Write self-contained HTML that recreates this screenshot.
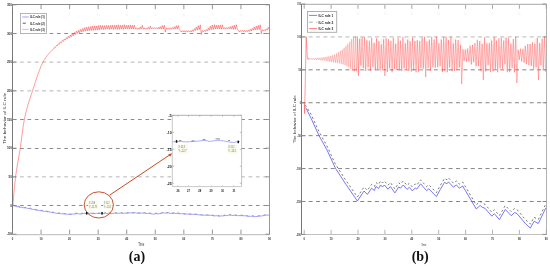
<!DOCTYPE html>
<html><head><meta charset="utf-8"><title>ILC rule behavior</title>
<style>
html,body{margin:0;padding:0;background:#fff;}
svg{display:block;}
text{font-family:"Liberation Sans",Arial,sans-serif;}
.b{font-weight:bold;}
.lbl{font-family:"Liberation Serif",serif;font-weight:bold;}
</style></head>
<body>
<svg width="550" height="266" viewBox="0 0 550 266">
<rect width="550" height="266" fill="#fff"/>
<line x1="12.5" y1="33.5" x2="269.5" y2="33.5" stroke="#8c8c8c" stroke-width="1.0" stroke-dasharray="3.65 3.72" stroke-dashoffset="7.12"/>
<line x1="12.5" y1="62.1" x2="269.5" y2="62.1" stroke="#b4b4b4" stroke-width="1.0" stroke-dasharray="3.65 3.72" stroke-dashoffset="7.12"/>
<line x1="12.5" y1="90.85" x2="269.5" y2="90.85" stroke="#b4b4b4" stroke-width="1.0" stroke-dasharray="3.65 3.72" stroke-dashoffset="7.12"/>
<line x1="12.5" y1="119.5" x2="269.5" y2="119.5" stroke="#8c8c8c" stroke-width="1.0" stroke-dasharray="3.65 3.72" stroke-dashoffset="7.12"/>
<line x1="12.5" y1="148.5" x2="269.5" y2="148.5" stroke="#8c8c8c" stroke-width="1.0" stroke-dasharray="3.65 3.72" stroke-dashoffset="7.12"/>
<line x1="12.5" y1="176.85" x2="269.5" y2="176.85" stroke="#b4b4b4" stroke-width="1.0" stroke-dasharray="3.65 3.72" stroke-dashoffset="7.12"/>
<line x1="12.5" y1="205.5" x2="269.5" y2="205.5" stroke="#8c8c8c" stroke-width="1.0" stroke-dasharray="3.65 3.72" stroke-dashoffset="7.12"/>
<polyline points="12.5,205.6 12.8,206.1 14.3,188.65 15.8,175.01 17.3,165.2 18.8,156.84 20.3,147.86 21.8,136.69 23.3,125.44 24.8,117.16 26.3,110.81 27.8,105.36 29.3,100.5 30.8,95.98 32.3,91.49 33.8,86.86 35.3,82.2 36.8,77.63 38.3,73.26 39.8,69.2 41.3,65.55 42.8,62.43 44.3,59.85 45.8,57.6 47.3,55.59 48.8,53.77 50.3,52.06 51.8,50.43 53.3,49.4 54.3,47.49 55.3,47.56 56.3,45.5 57.3,45.84 58.3,43.72 59.3,44.2 60.3,42.13 61.3,42.74 62.3,40.4 63.3,41.43 64.3,39.01 65.3,40.2 66.3,37.56 67.3,38.89 68.3,36.08 69.3,37.86 70.3,34.97 71.3,36.74 72.3,33.69 73.3,35.87 74.3,32.43 75.3,34.62 76.3,31.14 77.3,33.56 78.3,30.26 79.3,32.95 80.3,29.39 81.3,32.07 82.3,28.64 83.3,31.63 84.3,27.68 85.3,31.25 86.3,27.15 87.3,30.83 88.3,26.81 89.3,30.75 90.3,26.49 91.3,30.47 92.3,25.98 93.3,30.55 94.3,25.98 95.3,30.16 96.3,26.04 97.3,30 98.3,25.5 99.3,30.04 100.3,25.26 101.3,29.47 102.3,25.43 103.3,29.61 104.3,25.56 105.3,29.39 106.3,25.39 107.3,29.1 108.3,25.4 109.3,29.47 110.3,25.32 111.3,29.11 112.3,25.13 113.3,29.49 114.3,25.31 115.3,29.2 116.3,24.99 117.3,29.46 118.3,24.81 119.3,29.43 120.3,25.13 121.3,29.14 122.3,25.07 123.3,29.42 124.3,24.69 125.3,28.96 126.3,25.18 127.3,29.01 128.3,25.14 129.3,29.17 130.3,24.92 131.3,29.03 132.3,25.29 133.3,29.12 134.3,25.06 135.3,29.22 136.3,27.78 137.3,29.32 138.3,27.87 139.3,29.3 140.3,26.96 141.3,29.02 142.3,25.29 143.3,29.35 144.3,27.8 145.3,29.34 146.3,27.9 147.3,29.24 148.3,27.27 149.3,29.28 150.3,25.97 151.3,28.92 152.3,27.64 153.3,28.9 154.3,27.61 155.3,28.88 156.3,27.68 157.3,28.9 158.3,27.29 159.3,28.99 160.3,26.58 161.3,29.28 162.3,25.49 163.3,28.95 164.3,25.18 165.3,32.07 166.3,27.9 167.3,29.2 168.3,27.8 169.3,29.38 170.3,27.83 171.3,29.26 172.3,27.48 173.3,29.11 174.3,26.67 175.3,29.11 176.3,25.63 177.3,29 178.3,25.46 179.3,29.46 180.3,30.67 181.3,32 182.3,30.67 183.3,31.98 184.3,30.67 185.3,32.18 186.3,30.6 187.3,32.12 188.3,30.73 189.3,32.05 190.3,30.68 191.3,31.96 192.3,29.86 193.3,31.45 194.3,28.66 195.3,30.54 196.3,27 197.3,30.18 198.3,25.66 199.3,29.56 200.3,24.87 201.3,34.57 202.3,30.43 203.3,31.78 204.3,30.31 205.3,31.44 206.3,29.51 207.3,30.89 208.3,28.02 209.3,30.3 210.3,26.15 211.3,29.52 212.3,25 213.3,29.5 214.3,24.69 215.3,29.09 216.3,25.15 217.3,29 218.3,25.17 219.3,28.99 220.3,24.9 221.3,29.43 222.3,24.76 223.3,29.16 224.3,27.54 225.3,29.04 226.3,27.66 227.3,29.01 228.3,27.26 229.3,29.1 230.3,26.5 231.3,29.08 232.3,25.86 233.3,29.32 234.3,25.16 235.3,29.36 236.3,24.68 237.3,29.11 238.3,30.4 239.3,31.87 240.3,30.33 241.3,31.71 242.3,30.45 243.3,31.7 244.3,30.29 245.3,31.84 246.3,30.44 247.3,31.78 248.3,29.88 249.3,31.47 250.3,29.26 251.3,31 252.3,28.34 253.3,30.26 254.3,26.88 255.3,30.02 256.3,26.08 257.3,29.76 258.3,25.37 259.3,29.46 260.3,24.78 261.3,33.77 262.3,29.63 263.3,30.93 264.3,29.61 265.3,30.87 266.3,28.73 267.3,30.28 268.3,27.19 269.3,29.87" fill="none" stroke="#ff4a4a" stroke-width="0.55" stroke-linejoin="round"/>
<polyline points="12.5,205.01 14,205.37 15.5,205.75 17,206.24 18.5,206.25 20,206.85 21.5,206.87 23,207.16 24.5,207.42 26,207.39 27.5,207.91 29,208.03 30.5,208.19 32,208.92 33.5,208.8 35,209.23 36.5,209.64 38,209.79 39.5,209.91 41,210.27 42.5,210.53 44,210.91 45.5,210.74 47,211.26 48.5,211.31 50,211.57 51.5,212.07 53,212.12 54.5,212.37 56,212.7 57.5,213 59,212.93 60.5,213.21 62,213.26 63.5,213.39 65,213.62 66.5,213.59 68,213.76 69.5,213.85 71,214 72.5,213.62 74,213.49 75.5,213.39 77,213.04 78.5,213.28 80,213.57 81.5,213.46 83,212.99 84.5,212.94 86,213.09 87.5,212.82 89,212.87 90.5,212.74 92,213.08 93.5,213.14 95,213.19 96.5,212.73 98,213.05 99.5,213 101,212.68 102.5,213.1 104,213.14 105.5,212.68 107,213.1 108.5,212.75 110,212.79 111.5,213.09 113,213 114.5,212.6 116,212.76 117.5,212.81 119,212.7 120.5,212.62 122,212.69 123.5,212.93 125,212.51 126.5,212.77 128,212.64 129.5,212.33 131,212.46 132.5,212.57 134,212.45 135.5,212.16 137,212.78 138.5,212.74 140,212.92 141.5,212.47 143,212.63 144.5,212.57 146,213.08 147.5,212.85 149,212.83 150.5,213.09 152,213.51 153.5,213.57 155,213.36 156.5,213.14 158,213.45 159.5,213.09 161,213.02 162.5,212.5 164,212.33 165.5,212.63 167,212.54 168.5,212.38 170,212.96 171.5,212.84 173,213 174.5,212.63 176,213.15 177.5,212.74 179,213.28 180.5,213.11 182,213.16 183.5,213.41 185,213.76 186.5,213.48 188,213.52 189.5,213.88 191,213.8 192.5,213.82 194,213.94 195.5,213.96 197,214.14 198.5,214.3 200,214.38 201.5,214.75 203,214.55 204.5,214.77 206,214.66 207.5,214.83 209,214.71 210.5,214.93 212,214.86 213.5,215.36 215,215.33 216.5,215.2 218,215.46 219.5,215.83 221,215.26 222.5,215.54 224,215.16 225.5,215.05 227,215.1 228.5,214.69 230,214.6 231.5,214.79 233,215.04 234.5,214.73 236,215.1 237.5,215.1 239,215.13 240.5,215.09 242,215.19 243.5,215.15 245,215.33 246.5,215.43 248,215.96 249.5,215.81 251,215.78 252.5,215.7 254,216.12 255.5,216.11 257,215.96 258.5,215.7 260,215.65 261.5,215.43 263,215.28 264.5,214.84 266,214.77 267.5,214.53 269,214.82" fill="none" stroke="#505050" stroke-width="0.5" stroke-dasharray="2.2 3.6"/>
<polyline points="12.5,205.51 14,205.87 15.5,206.25 17,206.74 18.5,206.75 20,207.35 21.5,207.37 23,207.66 24.5,207.92 26,207.89 27.5,208.41 29,208.53 30.5,208.69 32,209.42 33.5,209.3 35,209.73 36.5,210.14 38,210.29 39.5,210.41 41,210.77 42.5,211.03 44,211.41 45.5,211.24 47,211.76 48.5,211.81 50,212.07 51.5,212.57 53,212.62 54.5,212.87 56,213.2 57.5,213.5 59,213.43 60.5,213.71 62,213.76 63.5,213.89 65,214.12 66.5,214.09 68,214.26 69.5,214.35 71,214.5 72.5,214.12 74,213.99 75.5,213.89 77,213.54 78.5,213.78 80,214.07 81.5,213.96 83,213.49 84.5,213.44 86,213.59 87.5,213.32 89,213.37 90.5,213.24 92,213.58 93.5,213.64 95,213.69 96.5,213.23 98,213.55 99.5,213.5 101,213.18 102.5,213.6 104,213.64 105.5,213.18 107,213.6 108.5,213.25 110,213.29 111.5,213.59 113,213.5 114.5,213.1 116,213.26 117.5,213.31 119,213.2 120.5,213.12 122,213.19 123.5,213.43 125,213.01 126.5,213.27 128,213.14 129.5,212.83 131,212.96 132.5,213.07 134,212.95 135.5,212.66 137,213.28 138.5,213.24 140,213.42 141.5,212.97 143,213.13 144.5,213.07 146,213.58 147.5,213.35 149,213.33 150.5,213.59 152,214.01 153.5,214.07 155,213.86 156.5,213.64 158,213.95 159.5,213.59 161,213.52 162.5,213 164,212.83 165.5,213.13 167,213.04 168.5,212.88 170,213.46 171.5,213.34 173,213.5 174.5,213.13 176,213.65 177.5,213.24 179,213.78 180.5,213.61 182,213.66 183.5,213.91 185,214.26 186.5,213.98 188,214.02 189.5,214.38 191,214.3 192.5,214.32 194,214.44 195.5,214.46 197,214.64 198.5,214.8 200,214.88 201.5,215.25 203,215.05 204.5,215.27 206,215.16 207.5,215.33 209,215.21 210.5,215.43 212,215.36 213.5,215.86 215,215.83 216.5,215.7 218,215.96 219.5,216.33 221,215.76 222.5,216.04 224,215.66 225.5,215.55 227,215.6 228.5,215.19 230,215.1 231.5,215.29 233,215.54 234.5,215.23 236,215.6 237.5,215.6 239,215.63 240.5,215.59 242,215.69 243.5,215.65 245,215.83 246.5,215.93 248,216.46 249.5,216.31 251,216.28 252.5,216.2 254,216.62 255.5,216.61 257,216.46 258.5,216.2 260,216.15 261.5,215.93 263,215.78 264.5,215.34 266,215.27 267.5,215.03 269,215.32" fill="none" stroke="#7a7af6" stroke-width="0.7"/>
<line x1="12.5" y1="4.5" x2="269.5" y2="4.5" stroke="#8a8a8a" stroke-width="1.0"/>
<line x1="12.5" y1="4" x2="12.5" y2="234.7" stroke="#777" stroke-width="1.0"/>
<line x1="269.5" y1="4" x2="269.5" y2="234.7" stroke="#999" stroke-width="1.0"/>
<line x1="12.5" y1="234.7" x2="269.5" y2="234.7" stroke="#b8b8b8" stroke-width="1.0"/>
<line x1="12.5" y1="234" x2="12.5" y2="229.6" stroke="#8a8a8a" stroke-width="0.9"/>
<line x1="12.5" y1="5" x2="12.5" y2="9.2" stroke="#8a8a8a" stroke-width="0.9"/>
<line x1="41.06" y1="234" x2="41.06" y2="229.6" stroke="#8a8a8a" stroke-width="0.9"/>
<line x1="41.06" y1="5" x2="41.06" y2="9.2" stroke="#8a8a8a" stroke-width="0.9"/>
<line x1="69.61" y1="234" x2="69.61" y2="229.6" stroke="#8a8a8a" stroke-width="0.9"/>
<line x1="69.61" y1="5" x2="69.61" y2="9.2" stroke="#8a8a8a" stroke-width="0.9"/>
<line x1="98.17" y1="234" x2="98.17" y2="229.6" stroke="#8a8a8a" stroke-width="0.9"/>
<line x1="98.17" y1="5" x2="98.17" y2="9.2" stroke="#8a8a8a" stroke-width="0.9"/>
<line x1="126.72" y1="234" x2="126.72" y2="229.6" stroke="#8a8a8a" stroke-width="0.9"/>
<line x1="126.72" y1="5" x2="126.72" y2="9.2" stroke="#8a8a8a" stroke-width="0.9"/>
<line x1="155.28" y1="234" x2="155.28" y2="229.6" stroke="#8a8a8a" stroke-width="0.9"/>
<line x1="155.28" y1="5" x2="155.28" y2="9.2" stroke="#8a8a8a" stroke-width="0.9"/>
<line x1="183.83" y1="234" x2="183.83" y2="229.6" stroke="#8a8a8a" stroke-width="0.9"/>
<line x1="183.83" y1="5" x2="183.83" y2="9.2" stroke="#8a8a8a" stroke-width="0.9"/>
<line x1="212.39" y1="234" x2="212.39" y2="229.6" stroke="#8a8a8a" stroke-width="0.9"/>
<line x1="212.39" y1="5" x2="212.39" y2="9.2" stroke="#8a8a8a" stroke-width="0.9"/>
<line x1="240.94" y1="234" x2="240.94" y2="229.6" stroke="#8a8a8a" stroke-width="0.9"/>
<line x1="240.94" y1="5" x2="240.94" y2="9.2" stroke="#8a8a8a" stroke-width="0.9"/>
<line x1="269.5" y1="234" x2="269.5" y2="229.6" stroke="#8a8a8a" stroke-width="0.9"/>
<line x1="269.5" y1="5" x2="269.5" y2="9.2" stroke="#8a8a8a" stroke-width="0.9"/>
<line x1="12.5" y1="234.17" x2="16.5" y2="234.17" stroke="#8a8a8a" stroke-width="0.9"/>
<line x1="269.5" y1="234.17" x2="265.5" y2="234.17" stroke="#8a8a8a" stroke-width="0.9"/>
<line x1="12.5" y1="205.5" x2="16.5" y2="205.5" stroke="#8a8a8a" stroke-width="0.9"/>
<line x1="269.5" y1="205.5" x2="265.5" y2="205.5" stroke="#8a8a8a" stroke-width="0.9"/>
<line x1="12.5" y1="176.83" x2="16.5" y2="176.83" stroke="#8a8a8a" stroke-width="0.9"/>
<line x1="269.5" y1="176.83" x2="265.5" y2="176.83" stroke="#8a8a8a" stroke-width="0.9"/>
<line x1="12.5" y1="148.17" x2="16.5" y2="148.17" stroke="#8a8a8a" stroke-width="0.9"/>
<line x1="269.5" y1="148.17" x2="265.5" y2="148.17" stroke="#8a8a8a" stroke-width="0.9"/>
<line x1="12.5" y1="119.5" x2="16.5" y2="119.5" stroke="#8a8a8a" stroke-width="0.9"/>
<line x1="269.5" y1="119.5" x2="265.5" y2="119.5" stroke="#8a8a8a" stroke-width="0.9"/>
<line x1="12.5" y1="90.83" x2="16.5" y2="90.83" stroke="#8a8a8a" stroke-width="0.9"/>
<line x1="269.5" y1="90.83" x2="265.5" y2="90.83" stroke="#8a8a8a" stroke-width="0.9"/>
<line x1="12.5" y1="62.17" x2="16.5" y2="62.17" stroke="#8a8a8a" stroke-width="0.9"/>
<line x1="269.5" y1="62.17" x2="265.5" y2="62.17" stroke="#8a8a8a" stroke-width="0.9"/>
<line x1="12.5" y1="33.5" x2="16.5" y2="33.5" stroke="#8a8a8a" stroke-width="0.9"/>
<line x1="269.5" y1="33.5" x2="265.5" y2="33.5" stroke="#8a8a8a" stroke-width="0.9"/>
<line x1="12.5" y1="4.83" x2="16.5" y2="4.83" stroke="#8a8a8a" stroke-width="0.9"/>
<line x1="269.5" y1="4.83" x2="265.5" y2="4.83" stroke="#8a8a8a" stroke-width="0.9"/>
<text x="12.5" y="240.3" font-size="3.4" fill="#333" text-anchor="middle" textLength="1.5" lengthAdjust="spacingAndGlyphs" class="b">0</text>
<text x="41.06" y="240.3" font-size="3.4" fill="#333" text-anchor="middle" textLength="3" lengthAdjust="spacingAndGlyphs" class="b">10</text>
<text x="69.61" y="240.3" font-size="3.4" fill="#333" text-anchor="middle" textLength="3" lengthAdjust="spacingAndGlyphs" class="b">20</text>
<text x="98.17" y="240.3" font-size="3.4" fill="#333" text-anchor="middle" textLength="3" lengthAdjust="spacingAndGlyphs" class="b">30</text>
<text x="126.72" y="240.3" font-size="3.4" fill="#333" text-anchor="middle" textLength="3" lengthAdjust="spacingAndGlyphs" class="b">40</text>
<text x="155.28" y="240.3" font-size="3.4" fill="#333" text-anchor="middle" textLength="3" lengthAdjust="spacingAndGlyphs" class="b">50</text>
<text x="183.83" y="240.3" font-size="3.4" fill="#333" text-anchor="middle" textLength="3" lengthAdjust="spacingAndGlyphs" class="b">60</text>
<text x="212.39" y="240.3" font-size="3.4" fill="#333" text-anchor="middle" textLength="3" lengthAdjust="spacingAndGlyphs" class="b">70</text>
<text x="240.94" y="240.3" font-size="3.4" fill="#333" text-anchor="middle" textLength="3" lengthAdjust="spacingAndGlyphs" class="b">80</text>
<text x="269.5" y="240.3" font-size="3.4" fill="#333" text-anchor="middle" textLength="3" lengthAdjust="spacingAndGlyphs" class="b">90</text>
<text x="12" y="235.42" font-size="3.4" fill="#333" text-anchor="end" textLength="5.1" lengthAdjust="spacingAndGlyphs" class="b">-50</text>
<text x="12" y="206.75" font-size="3.4" fill="#333" text-anchor="end" textLength="1.7" lengthAdjust="spacingAndGlyphs" class="b">0</text>
<text x="12" y="178.08" font-size="3.4" fill="#333" text-anchor="end" textLength="3.4" lengthAdjust="spacingAndGlyphs" class="b">50</text>
<text x="12" y="149.42" font-size="3.4" fill="#333" text-anchor="end" textLength="5.1" lengthAdjust="spacingAndGlyphs" class="b">100</text>
<text x="12" y="120.75" font-size="3.4" fill="#333" text-anchor="end" textLength="5.1" lengthAdjust="spacingAndGlyphs" class="b">150</text>
<text x="12" y="92.08" font-size="3.4" fill="#333" text-anchor="end" textLength="5.1" lengthAdjust="spacingAndGlyphs" class="b">200</text>
<text x="12" y="63.42" font-size="3.4" fill="#333" text-anchor="end" textLength="5.1" lengthAdjust="spacingAndGlyphs" class="b">250</text>
<text x="12" y="34.75" font-size="3.4" fill="#333" text-anchor="end" textLength="5.1" lengthAdjust="spacingAndGlyphs" class="b">300</text>
<text x="12" y="6.08" font-size="3.4" fill="#333" text-anchor="end" textLength="5.1" lengthAdjust="spacingAndGlyphs" class="b">350</text>
<text x="41.06" y="15.6" font-size="3.4" fill="#eeeeee" text-anchor="middle" textLength="2.8" lengthAdjust="spacingAndGlyphs">10</text>
<text x="69.61" y="15.6" font-size="3.4" fill="#eeeeee" text-anchor="middle" textLength="2.8" lengthAdjust="spacingAndGlyphs">20</text>
<text x="98.17" y="15.6" font-size="3.4" fill="#eeeeee" text-anchor="middle" textLength="2.8" lengthAdjust="spacingAndGlyphs">30</text>
<text x="126.72" y="15.6" font-size="3.4" fill="#eeeeee" text-anchor="middle" textLength="2.8" lengthAdjust="spacingAndGlyphs">40</text>
<text x="155.28" y="15.6" font-size="3.4" fill="#eeeeee" text-anchor="middle" textLength="2.8" lengthAdjust="spacingAndGlyphs">50</text>
<text x="183.83" y="15.6" font-size="3.4" fill="#eeeeee" text-anchor="middle" textLength="2.8" lengthAdjust="spacingAndGlyphs">60</text>
<text x="212.39" y="15.6" font-size="3.4" fill="#eeeeee" text-anchor="middle" textLength="2.8" lengthAdjust="spacingAndGlyphs">70</text>
<text x="240.94" y="15.6" font-size="3.4" fill="#eeeeee" text-anchor="middle" textLength="2.8" lengthAdjust="spacingAndGlyphs">80</text>
<text x="141.2" y="246.4" font-size="4.6" fill="#333" text-anchor="middle" textLength="6.1" lengthAdjust="spacingAndGlyphs">Time</text>
<text transform="translate(6.4,118.3) rotate(-90)" font-size="4.2" fill="#333" text-anchor="middle" textLength="51" lengthAdjust="spacingAndGlyphs">The behavior of ILC rule</text>
<rect x="20.5" y="13.5" width="26" height="20" fill="#fff" stroke="#b0b0b0" stroke-width="0.9"/>
<line x1="22.2" y1="17" x2="28.8" y2="17" stroke="#a0a0ff" stroke-width="1.0"/>
<line x1="22.7" y1="23.2" x2="25.8" y2="23.2" stroke="#333" stroke-width="0.8"/>
<line x1="22.2" y1="29.4" x2="28.8" y2="29.4" stroke="#ffa0a0" stroke-width="0.8"/>
<text x="30.2" y="18.4" font-size="3.8" fill="#222" textLength="14.6" lengthAdjust="spacingAndGlyphs" class="b">ILC rule (1)</text>
<text x="30.2" y="24.6" font-size="3.8" fill="#222" textLength="14.6" lengthAdjust="spacingAndGlyphs" class="b">ILC rule (2)</text>
<text x="30.2" y="30.8" font-size="3.8" fill="#222" textLength="14.6" lengthAdjust="spacingAndGlyphs" class="b">ILC rule (3)</text>
<ellipse cx="98.8" cy="204.9" rx="14.6" ry="13.1" fill="none" stroke="#cc5430" stroke-width="1.0"/>
<line x1="109.5" y1="195.2" x2="170" y2="154.7" stroke="#c84a24" stroke-width="1.0"/>
<polygon points="172.3,153.3 168.3,154.2 170.1,156.8" fill="#c84a24"/>
<rect x="88.1" y="200.4" width="10" height="8.8" fill="#fbfbea"/>
<text x="89" y="204" font-size="2.9" fill="#666" textLength="6.2" lengthAdjust="spacingAndGlyphs">X: 25.8</text>
<text x="89" y="208.2" font-size="2.9" fill="#666" textLength="7.8" lengthAdjust="spacingAndGlyphs">Y: -12.79</text>
<rect x="103.2" y="200.4" width="8.8" height="8.8" fill="#fbfbea"/>
<text x="104.1" y="204" font-size="2.9" fill="#666" textLength="5.46" lengthAdjust="spacingAndGlyphs">X: 31.2</text>
<text x="104.1" y="208.2" font-size="2.9" fill="#666" textLength="6.86" lengthAdjust="spacingAndGlyphs">Y: -13.2</text>
<rect x="85.9" y="212.0" width="1.5" height="2.6" fill="#111"/>
<rect x="101.3" y="212.0" width="1.5" height="2.6" fill="#111"/>
<rect x="172.3" y="115.3" width="69.3" height="71.3" fill="#fff"/>
<line x1="172.3" y1="115.3" x2="241.6" y2="115.3" stroke="#a8a8a8" stroke-width="0.9"/>
<line x1="172.3" y1="115.3" x2="172.3" y2="186.6" stroke="#c4c4c4" stroke-width="0.9"/>
<line x1="241.6" y1="115.3" x2="241.6" y2="186.6" stroke="#bcbcbc" stroke-width="0.9"/>
<line x1="172.3" y1="186.6" x2="241.6" y2="186.6" stroke="#c4c4c4" stroke-width="0.9"/>
<line x1="177.9" y1="186.6" x2="177.9" y2="185.1" stroke="#bbb" stroke-width="0.6"/>
<line x1="177.9" y1="115.3" x2="177.9" y2="116.8" stroke="#999" stroke-width="0.6"/>
<text x="177.9" y="192.3" font-size="3.9" fill="#222" text-anchor="middle" textLength="3" lengthAdjust="spacingAndGlyphs" class="b">26</text>
<line x1="188.6" y1="186.6" x2="188.6" y2="185.1" stroke="#bbb" stroke-width="0.6"/>
<line x1="188.6" y1="115.3" x2="188.6" y2="116.8" stroke="#999" stroke-width="0.6"/>
<text x="188.6" y="192.3" font-size="3.9" fill="#222" text-anchor="middle" textLength="3" lengthAdjust="spacingAndGlyphs" class="b">27</text>
<line x1="199.8" y1="186.6" x2="199.8" y2="185.1" stroke="#bbb" stroke-width="0.6"/>
<line x1="199.8" y1="115.3" x2="199.8" y2="116.8" stroke="#999" stroke-width="0.6"/>
<text x="199.8" y="192.3" font-size="3.9" fill="#222" text-anchor="middle" textLength="3" lengthAdjust="spacingAndGlyphs" class="b">28</text>
<line x1="211.1" y1="186.6" x2="211.1" y2="185.1" stroke="#bbb" stroke-width="0.6"/>
<line x1="211.1" y1="115.3" x2="211.1" y2="116.8" stroke="#999" stroke-width="0.6"/>
<text x="211.1" y="192.3" font-size="3.9" fill="#222" text-anchor="middle" textLength="3" lengthAdjust="spacingAndGlyphs" class="b">29</text>
<line x1="222.6" y1="186.6" x2="222.6" y2="185.1" stroke="#bbb" stroke-width="0.6"/>
<line x1="222.6" y1="115.3" x2="222.6" y2="116.8" stroke="#999" stroke-width="0.6"/>
<text x="222.6" y="192.3" font-size="3.9" fill="#222" text-anchor="middle" textLength="3" lengthAdjust="spacingAndGlyphs" class="b">30</text>
<line x1="233.9" y1="186.6" x2="233.9" y2="185.1" stroke="#bbb" stroke-width="0.6"/>
<line x1="233.9" y1="115.3" x2="233.9" y2="116.8" stroke="#999" stroke-width="0.6"/>
<text x="233.9" y="192.3" font-size="3.9" fill="#222" text-anchor="middle" textLength="3" lengthAdjust="spacingAndGlyphs" class="b">31</text>
<line x1="172.3" y1="115.4" x2="174.1" y2="115.4" stroke="#999" stroke-width="0.6"/>
<line x1="241.6" y1="115.4" x2="239.8" y2="115.4" stroke="#999" stroke-width="0.6"/>
<text x="171.8" y="116.8" font-size="3.9" fill="#222" text-anchor="end" textLength="3.6" lengthAdjust="spacingAndGlyphs" class="b">-5</text>
<line x1="172.3" y1="132.4" x2="174.1" y2="132.4" stroke="#999" stroke-width="0.6"/>
<line x1="241.6" y1="132.4" x2="239.8" y2="132.4" stroke="#999" stroke-width="0.6"/>
<text x="171.8" y="133.8" font-size="3.9" fill="#222" text-anchor="end" textLength="5.1" lengthAdjust="spacingAndGlyphs" class="b">-10</text>
<line x1="172.3" y1="149.3" x2="174.1" y2="149.3" stroke="#999" stroke-width="0.6"/>
<line x1="241.6" y1="149.3" x2="239.8" y2="149.3" stroke="#999" stroke-width="0.6"/>
<text x="171.8" y="150.7" font-size="3.9" fill="#222" text-anchor="end" textLength="5.1" lengthAdjust="spacingAndGlyphs" class="b">-15</text>
<line x1="172.3" y1="166.2" x2="174.1" y2="166.2" stroke="#999" stroke-width="0.6"/>
<line x1="241.6" y1="166.2" x2="239.8" y2="166.2" stroke="#999" stroke-width="0.6"/>
<text x="171.8" y="167.6" font-size="3.9" fill="#222" text-anchor="end" textLength="5.1" lengthAdjust="spacingAndGlyphs" class="b">-20</text>
<line x1="172.3" y1="183.2" x2="174.1" y2="183.2" stroke="#999" stroke-width="0.6"/>
<line x1="241.6" y1="183.2" x2="239.8" y2="183.2" stroke="#999" stroke-width="0.6"/>
<text x="171.8" y="184.6" font-size="3.9" fill="#222" text-anchor="end" textLength="5.1" lengthAdjust="spacingAndGlyphs" class="b">-25</text>
<polyline points="172.5,142.04 173.8,141.79 175.1,141.6 176.4,141.93 177.7,141.57 179,141.55 180.3,141.37 181.6,141.62 182.9,141.73 184.2,141.81 185.5,141.73 186.8,141.94 188.1,141.74 189.4,141.78 190.7,141.59 192,141.65 193.3,141.37 194.6,141.27 195.9,141.31 197.2,141.1 198.5,141.1 199.8,140.89 201.1,140.82 202.4,140.6 203.7,140.45 205,140.67 206.3,140.67 207.6,140.87 208.9,141.44 210.2,141.19 211.5,141.28 212.8,141.04 214.1,140.54 215.4,140.74 216.7,140.57 218,140.24 219.3,140.35 220.6,140.61 221.9,140.5 223.2,140.91 224.5,141.12 225.8,141.49 227.1,141.67 228.4,141.88 229.7,141.96 231,142.31 232.3,142.41 233.6,142.58 234.9,142.18 236.2,141.91 237.5,141.78 238.8,141.76 240.1,141.52" fill="none" stroke="#8484f8" stroke-width="0.7"/>
<line x1="179" y1="140.6" x2="181.5" y2="140.6" stroke="#444" stroke-width="0.6"/>
<line x1="191.5" y1="140.9" x2="194.5" y2="140.9" stroke="#444" stroke-width="0.6"/>
<line x1="202.5" y1="139.6" x2="205.5" y2="139.6" stroke="#444" stroke-width="0.6"/>
<line x1="215.5" y1="138.9" x2="220" y2="138.9" stroke="#444" stroke-width="0.6"/>
<line x1="228" y1="140.5" x2="230" y2="140.5" stroke="#444" stroke-width="0.6"/>
<rect x="175.8" y="140.1" width="1.5" height="2.6" fill="#111"/>
<rect x="237.5" y="140.6" width="1.5" height="2.6" fill="#111"/>
<rect x="177.6" y="144.4" width="10.2" height="9.6" fill="#fbfbea"/>
<text x="178.5" y="148" font-size="2.9" fill="#666" textLength="6.32" lengthAdjust="spacingAndGlyphs">X: 25.8</text>
<text x="178.5" y="152.2" font-size="2.9" fill="#666" textLength="7.96" lengthAdjust="spacingAndGlyphs">Y: -12.7</text>
<rect x="227.3" y="144.6" width="10" height="9.6" fill="#fbfbea"/>
<text x="228.2" y="148.2" font-size="2.9" fill="#666" textLength="6.2" lengthAdjust="spacingAndGlyphs">X: 31.2</text>
<text x="228.2" y="152.4" font-size="2.9" fill="#666" textLength="7.8" lengthAdjust="spacingAndGlyphs">Y: -13.2</text>
<text x="137" y="261.3" class="lbl" font-size="14" fill="#111" text-anchor="middle">(a)</text>
<line x1="301.5" y1="36.91" x2="546.5" y2="36.91" stroke="#b8b8b8" stroke-width="1.0" stroke-dasharray="4 3.37" stroke-dashoffset="0.27"/>
<line x1="301.5" y1="69.83" x2="546.5" y2="69.83" stroke="#858585" stroke-width="1.0" stroke-dasharray="4 3.37" stroke-dashoffset="0.27"/>
<line x1="301.5" y1="102.74" x2="546.5" y2="102.74" stroke="#858585" stroke-width="1.0" stroke-dasharray="4 3.37" stroke-dashoffset="0.27"/>
<line x1="301.5" y1="135.66" x2="546.5" y2="135.66" stroke="#858585" stroke-width="1.0" stroke-dasharray="4 3.37" stroke-dashoffset="0.27"/>
<line x1="301.5" y1="168.57" x2="546.5" y2="168.57" stroke="#858585" stroke-width="1.0" stroke-dasharray="4 3.37" stroke-dashoffset="0.27"/>
<line x1="301.5" y1="201.49" x2="546.5" y2="201.49" stroke="#858585" stroke-width="1.0" stroke-dasharray="4 3.37" stroke-dashoffset="0.27"/>
<polyline points="307.4,58.8 308,58.41 308.95,59.43 309.9,58.33 310.85,59.52 311.8,58.23 312.75,59.62 313.7,58.13 314.65,59.73 315.6,58 316.55,59.87 317.5,57.86 318.45,60.03 319.4,57.69 320.35,60.21 321.3,57.49 322.25,60.42 323.2,57.26 324.15,60.66 325.1,57 326.05,60.95 327,56.69 327.95,61.28 328.9,56.34 329.85,61.66 330.8,55.91 331.75,62.05 332.7,55.31 333.65,62.38 334.6,54.51 335.55,62.69 336.5,53.52 337.45,63.01 338.4,52.36 339.35,63.38 340.3,51.02 341.25,63.84 342.2,49.5 343.15,64.42 344.1,47.8 345.05,65.17 346,45.92 346.95,66.15 347.9,43.85 348.85,67.4 349.8,41.57 350.75,68.99 351.7,39.06 352.65,70.97 353.6,36.81 354.55,71.51 355.5,36.64 356.45,71.41 357.4,36.5 358.35,72.5" fill="none" stroke="#ff6060" stroke-width="0.35"/>
<polyline points="357,37.79 358,68.78 359,39.57 360,69.42 361,39.1 362,68.11 363,48.69 364,70.9 365,38.51 366,68.24 367,40.44 368,69.71 369,46.63 370,70.39 371,43.59 372,62.55 373,43.41 374,70.33 375,44.23 376,70.42 377,36.68 378,68.15 379,42.02 380,68 381,39.07 382,70.65 383,39.67 384,69.56 385,46.38 386,63.89 387,43.56 388,70.44 389,42.93 390,68.87 391,48.19 392,62.24 393,43.37 394,69.83 395,39 396,69.86 397,43.09 398,68.38 399,41.14 400,67.87 401,45.6 402,71.68 403,44.31 404,72.33 405,36.99 406,61.01 407,41.2 408,71.08 409,36.74 410,67.7 411,43.37 412,64.84 413,36.92 414,64.85 415,40 416,63.8 417,40.55 418,72.14 419,45.35 420,71.09 421,40.7 422,71.62 423,38.9 424,65.14 425,37.29 426,68.07 427,47.73 428,60.33 429,40.87 430,67.71 431,42.96 432,63.78 433,42.46 434,66.21 435,37.75 436,60.18 437,38.49 438,71.24 439,45.57 440,71.94 441,38.81 442,71.74 443,43.11 444,66.86 445,41.91 446,72.49 447,39.93 448,66.73 449,41.53 450,65.71 451,47.06 452,63.1 453,37.79 454,65.84 455,36.99 456,65.38 457,43.41 458,68.32 459,44.45 460,66.88 461,36.83 462,71.6 463,48.71 464,59.85 465,48.06 466,61.37 467,48.57 468,61.56 469,50.89 470,62.76 471,47.08 472,64.19 473,44.72 474,62.36 475,49 476,68.1 477,47.06 478,66.05 479,43.72 480,65.15 481,39.33 482,71.87 483,43.59 484,69.66 485,42.97 486,68.77 487,41.89 488,64.21 489,44.88 490,64.81 491,37.22 492,68.18 493,44.02 494,71.78 495,36.53 496,67.7 497,45.23 498,64.59 499,46.11 500,66.52 501,46.11 502,65.24 503,43.51 504,68.89 505,37.37 506,70.5 507,41.69 508,67.32 509,40.55 510,66.92 511,42.53 512,62.28 513,43.26 514,72.25 515,45.47 516,68.25 517,39.55 518,60.43 519,50.81 520,58.57 521,50.34 522,59.65 523,48.77 524,62.77 525,46 526,63.78 527,50.58 528,58.92 529,43.93 530,66.87 531,44.25 532,66.21 533,49.88 534,65.59 535,38.55 536,70.19 537,38.18 538,72.02 539,43.68 540,63.23 541,44.99 542,68.43 543,39.08 544,72.05 545,38.74 546,69.61" fill="none" stroke="#ffd2d2" stroke-width="0.3"/>
<polyline points="357.3,37.52 358.5,76 359.7,38.61 360.9,65.6 362.1,37.44 363.3,68.17 364.5,36.83 365.7,70.89 366.9,40.24 368.1,67.07 369.3,40.66 370.5,70.84 371.7,37.84 372.9,66.86 374.1,42.77 375.3,70.23 376.5,38.44 377.7,69.38 378.9,40.91 380.1,70.66 381.3,44.34 382.5,68.75 383.7,39.15 384.9,76 386.1,38.11 387.3,72.01 388.5,39.06 389.7,68.19 390.9,40.7 392.1,72.34 393.3,37.81 394.5,68.79 395.7,43.89 396.9,70.08 398.1,37.96 399.3,69.59 400.5,40.61 401.7,71 402.9,36.81 404.1,68.12 405.3,43.53 406.5,69.02 407.7,39.41 408.9,71.08 410.1,41.16 411.3,71.63 412.5,37.64 413.7,70.12 414.9,41.09 416.1,72.38 417.3,40.17 418.5,71.73 419.7,40.85 420.9,68.07 422.1,37.54 423.3,68.7 424.5,36.7 425.7,77 426.9,41.26 428.1,68.08 429.3,39.43 430.5,70.99 431.7,36.71 432.9,67.29 434.1,39.59 435.3,67.99 436.5,36.61 437.7,67.24 438.9,43.12 440.1,66.04 441.3,39.59 442.5,72.08 443.7,36.99 444.9,71.32 446.1,36.51 447.3,72.22 448.5,40.04 449.7,67.72 450.9,36.76 452.1,71.39 453.3,43.59 454.5,70.99 455.7,39.69 456.9,69.28 458.1,40.02 459.3,67.55 460.5,44.85 461.7,84 462.9,49.38 464.1,60.89 465.3,49.78 466.5,61.71 467.7,48.61 468.9,61.53 470.1,45.45 471.3,64.41 472.5,45 473.7,62.19 474.9,43.2 476.1,66.08 477.3,39.79 478.5,66.17 479.7,41 480.9,71.21 482.1,43.89 483.3,80 484.5,37.31 485.7,71.49 486.9,43.37 488.1,65.49 489.3,42.91 490.5,72.17 491.7,40.62 492.9,71.39 494.1,36.92 495.3,69.03 496.5,40.49 497.7,72.33 498.9,38.26 500.1,68.43 501.3,37.75 502.5,68.86 503.7,40.46 504.9,64.23 506.1,37.57 507.3,72.15 508.5,38.17 509.7,72.27 510.9,43.81 512.1,68.18 513.3,39.06 514.5,72.32 515.7,36.69 516.9,83 518.1,49.66 519.3,59.9 520.5,48.7 521.7,61.56 522.9,48.8 524.1,62.6 525.3,45.78 526.5,64.26 527.7,43.99 528.9,65.36 530.1,44.05 531.3,65.66 532.5,42.38 533.7,69.35 534.9,43.68 536.1,67.12 537.3,38.04 538.5,80 539.7,42.88 540.9,65.46 542.1,38.61 543.3,68.93 544.5,36.58 545.7,72.01" fill="none" stroke="#ff3c3c" stroke-width="0.36"/>
<polyline points="304.3,102.7 304.6,113.5 306.2,36.8 307.4,58.8 309.5,58.9" fill="none" stroke="#ff4d4d" stroke-width="0.55"/>
<polyline points="305,105.2 306.2,106.6 311.1,114.4 319,131.6 327,146 335.4,164.2 346,180.5 357.4,197 364,187 367.4,190.4 371.6,184.3 374.4,186.5 376,182.5 378.5,184.5 380.6,181 382.5,183 384.4,181 388,185.2 390.4,182.5 394.9,188.9 398.8,182.8 400.3,184.3 403.3,181 407,185.4 409.3,183.3 412.3,186.9 415.3,183.9 416.8,185.1 420.6,179.8 423.6,183.3 426.6,186.6 428.8,184.8 436.4,192.6 440.1,185.8 444.6,178.3 446.9,179.8 448.4,177.8 453.4,183.2 456.4,180.9 459.3,184.2 462.7,182 476.2,204.9 480.1,201.5 482.1,203.2 485,204.3 491.8,212.2 494.3,209.7 499.4,215.6 505.3,205.5 511.2,211.7 514.6,208.5 517.1,209.7 525.6,219.8 530.3,224.1 534.1,217.3 538.3,219.5 545.9,203.8" fill="none" stroke="#3c3c3c" stroke-width="0.7" stroke-dasharray="2.1 2.5"/>
<polyline points="305.6,107.6 306.2,108.4 311.1,118.4 319,135.6 327,150 335.4,168.2 346,184.5 357.4,201 364,191 367.4,194.4 371.6,188.3 374.4,190.5 376,186.5 378.5,188.5 380.6,185 382.5,187 384.4,185 388,189.2 390.4,186.5 394.9,192.9 398.8,186.8 400.3,188.3 403.3,185 407,189.4 409.3,187.3 412.3,190.9 415.3,187.9 416.8,189.1 420.6,183.8 423.6,187.3 426.6,190.6 428.8,188.8 436.4,196.6 440.1,189.8 444.6,182.3 446.9,183.8 448.4,181.8 453.4,187.2 456.4,184.9 459.3,188.2 462.7,186 476.2,208.9 480.1,205.5 482.1,207.2 485,208.3 491.8,216.2 494.3,213.7 499.4,219.6 505.3,209.5 511.2,215.7 514.6,212.5 517.1,213.7 525.6,223.8 530.3,228.1 534.1,221.3 538.3,223.5 545.9,207.8" fill="none" stroke="#6060f0" stroke-width="0.85"/>
<line x1="301.5" y1="4.3" x2="546.5" y2="4.3" stroke="#a8a8a8" stroke-width="1.0"/>
<line x1="301.5" y1="4" x2="301.5" y2="235" stroke="#777" stroke-width="1.0"/>
<line x1="546.5" y1="4" x2="546.5" y2="235" stroke="#b0b0b0" stroke-width="1.0"/>
<line x1="301.5" y1="234.5" x2="546.5" y2="234.5" stroke="#c0c0c0" stroke-width="1.0"/>
<line x1="304.2" y1="234" x2="304.2" y2="229.8" stroke="#aaaaaa" stroke-width="0.9"/>
<line x1="304.2" y1="5" x2="304.2" y2="8.8" stroke="#999999" stroke-width="0.9"/>
<text x="304.2" y="240" font-size="3.4" fill="#333" text-anchor="middle" textLength="1.5" lengthAdjust="spacingAndGlyphs" class="b">0</text>
<line x1="331.1" y1="234" x2="331.1" y2="229.8" stroke="#aaaaaa" stroke-width="0.9"/>
<line x1="331.1" y1="5" x2="331.1" y2="8.8" stroke="#999999" stroke-width="0.9"/>
<text x="331.1" y="240" font-size="3.4" fill="#333" text-anchor="middle" textLength="3" lengthAdjust="spacingAndGlyphs" class="b">10</text>
<line x1="358" y1="234" x2="358" y2="229.8" stroke="#aaaaaa" stroke-width="0.9"/>
<line x1="358" y1="5" x2="358" y2="8.8" stroke="#999999" stroke-width="0.9"/>
<text x="358" y="240" font-size="3.4" fill="#333" text-anchor="middle" textLength="3" lengthAdjust="spacingAndGlyphs" class="b">20</text>
<line x1="384.9" y1="234" x2="384.9" y2="229.8" stroke="#aaaaaa" stroke-width="0.9"/>
<line x1="384.9" y1="5" x2="384.9" y2="8.8" stroke="#999999" stroke-width="0.9"/>
<text x="384.9" y="240" font-size="3.4" fill="#333" text-anchor="middle" textLength="3" lengthAdjust="spacingAndGlyphs" class="b">30</text>
<line x1="411.8" y1="234" x2="411.8" y2="229.8" stroke="#aaaaaa" stroke-width="0.9"/>
<line x1="411.8" y1="5" x2="411.8" y2="8.8" stroke="#999999" stroke-width="0.9"/>
<text x="411.8" y="240" font-size="3.4" fill="#333" text-anchor="middle" textLength="3" lengthAdjust="spacingAndGlyphs" class="b">40</text>
<line x1="438.7" y1="234" x2="438.7" y2="229.8" stroke="#aaaaaa" stroke-width="0.9"/>
<line x1="438.7" y1="5" x2="438.7" y2="8.8" stroke="#999999" stroke-width="0.9"/>
<text x="438.7" y="240" font-size="3.4" fill="#333" text-anchor="middle" textLength="3" lengthAdjust="spacingAndGlyphs" class="b">50</text>
<line x1="465.6" y1="234" x2="465.6" y2="229.8" stroke="#aaaaaa" stroke-width="0.9"/>
<line x1="465.6" y1="5" x2="465.6" y2="8.8" stroke="#999999" stroke-width="0.9"/>
<text x="465.6" y="240" font-size="3.4" fill="#333" text-anchor="middle" textLength="3" lengthAdjust="spacingAndGlyphs" class="b">60</text>
<line x1="492.5" y1="234" x2="492.5" y2="229.8" stroke="#aaaaaa" stroke-width="0.9"/>
<line x1="492.5" y1="5" x2="492.5" y2="8.8" stroke="#999999" stroke-width="0.9"/>
<text x="492.5" y="240" font-size="3.4" fill="#333" text-anchor="middle" textLength="3" lengthAdjust="spacingAndGlyphs" class="b">70</text>
<line x1="519.4" y1="234" x2="519.4" y2="229.8" stroke="#aaaaaa" stroke-width="0.9"/>
<line x1="519.4" y1="5" x2="519.4" y2="8.8" stroke="#999999" stroke-width="0.9"/>
<text x="519.4" y="240" font-size="3.4" fill="#333" text-anchor="middle" textLength="3" lengthAdjust="spacingAndGlyphs" class="b">80</text>
<line x1="546.3" y1="234" x2="546.3" y2="229.8" stroke="#aaaaaa" stroke-width="0.9"/>
<line x1="546.3" y1="5" x2="546.3" y2="8.8" stroke="#999999" stroke-width="0.9"/>
<text x="546.3" y="240" font-size="3.4" fill="#333" text-anchor="middle" textLength="3" lengthAdjust="spacingAndGlyphs" class="b">90</text>
<line x1="301.5" y1="234.4" x2="305.5" y2="234.4" stroke="#8a8a8a" stroke-width="0.9"/>
<line x1="546.5" y1="234.4" x2="542.5" y2="234.4" stroke="#8a8a8a" stroke-width="0.9"/>
<text x="300.9" y="235.65" font-size="3.4" fill="#333" text-anchor="end" textLength="4.8" lengthAdjust="spacingAndGlyphs" class="b">-200</text>
<line x1="301.5" y1="201.49" x2="305.5" y2="201.49" stroke="#8a8a8a" stroke-width="0.9"/>
<line x1="546.5" y1="201.49" x2="542.5" y2="201.49" stroke="#8a8a8a" stroke-width="0.9"/>
<text x="300.9" y="202.74" font-size="3.4" fill="#333" text-anchor="end" textLength="4.8" lengthAdjust="spacingAndGlyphs" class="b">-150</text>
<line x1="301.5" y1="168.57" x2="305.5" y2="168.57" stroke="#8a8a8a" stroke-width="0.9"/>
<line x1="546.5" y1="168.57" x2="542.5" y2="168.57" stroke="#8a8a8a" stroke-width="0.9"/>
<text x="300.9" y="169.82" font-size="3.4" fill="#333" text-anchor="end" textLength="4.8" lengthAdjust="spacingAndGlyphs" class="b">-100</text>
<line x1="301.5" y1="135.66" x2="305.5" y2="135.66" stroke="#8a8a8a" stroke-width="0.9"/>
<line x1="546.5" y1="135.66" x2="542.5" y2="135.66" stroke="#8a8a8a" stroke-width="0.9"/>
<text x="300.9" y="136.91" font-size="3.4" fill="#333" text-anchor="end" textLength="3.6" lengthAdjust="spacingAndGlyphs" class="b">-50</text>
<line x1="301.5" y1="102.74" x2="305.5" y2="102.74" stroke="#8a8a8a" stroke-width="0.9"/>
<line x1="546.5" y1="102.74" x2="542.5" y2="102.74" stroke="#8a8a8a" stroke-width="0.9"/>
<text x="300.9" y="103.99" font-size="3.4" fill="#333" text-anchor="end" textLength="1.2" lengthAdjust="spacingAndGlyphs" class="b">0</text>
<line x1="301.5" y1="69.83" x2="305.5" y2="69.83" stroke="#8a8a8a" stroke-width="0.9"/>
<line x1="546.5" y1="69.83" x2="542.5" y2="69.83" stroke="#8a8a8a" stroke-width="0.9"/>
<text x="300.9" y="71.08" font-size="3.4" fill="#333" text-anchor="end" textLength="2.4" lengthAdjust="spacingAndGlyphs" class="b">50</text>
<line x1="301.5" y1="36.91" x2="305.5" y2="36.91" stroke="#8a8a8a" stroke-width="0.9"/>
<line x1="546.5" y1="36.91" x2="542.5" y2="36.91" stroke="#8a8a8a" stroke-width="0.9"/>
<text x="300.9" y="38.16" font-size="3.4" fill="#333" text-anchor="end" textLength="3.6" lengthAdjust="spacingAndGlyphs" class="b">100</text>
<line x1="301.5" y1="4" x2="305.5" y2="4" stroke="#8a8a8a" stroke-width="0.9"/>
<line x1="546.5" y1="4" x2="542.5" y2="4" stroke="#8a8a8a" stroke-width="0.9"/>
<text x="300.9" y="5.25" font-size="3.4" fill="#333" text-anchor="end" textLength="3.6" lengthAdjust="spacingAndGlyphs" class="b">150</text>
<text x="331.1" y="14.8" font-size="3.4" fill="#eeeeee" text-anchor="middle" textLength="2.8" lengthAdjust="spacingAndGlyphs">10</text>
<text x="358" y="14.8" font-size="3.4" fill="#eeeeee" text-anchor="middle" textLength="2.8" lengthAdjust="spacingAndGlyphs">20</text>
<text x="384.9" y="14.8" font-size="3.4" fill="#eeeeee" text-anchor="middle" textLength="2.8" lengthAdjust="spacingAndGlyphs">30</text>
<text x="411.8" y="14.8" font-size="3.4" fill="#eeeeee" text-anchor="middle" textLength="2.8" lengthAdjust="spacingAndGlyphs">40</text>
<text x="438.7" y="14.8" font-size="3.4" fill="#eeeeee" text-anchor="middle" textLength="2.8" lengthAdjust="spacingAndGlyphs">50</text>
<text x="465.6" y="14.8" font-size="3.4" fill="#eeeeee" text-anchor="middle" textLength="2.8" lengthAdjust="spacingAndGlyphs">60</text>
<text x="492.5" y="14.8" font-size="3.4" fill="#eeeeee" text-anchor="middle" textLength="2.8" lengthAdjust="spacingAndGlyphs">70</text>
<text x="519.4" y="14.8" font-size="3.4" fill="#eeeeee" text-anchor="middle" textLength="2.8" lengthAdjust="spacingAndGlyphs">80</text>
<text x="423.8" y="245.9" font-size="4.3" fill="#333" text-anchor="middle" textLength="5.2" lengthAdjust="spacingAndGlyphs">Time</text>
<text transform="translate(295.7,119.3) rotate(-90)" font-size="4.2" fill="#333" text-anchor="middle" textLength="48" lengthAdjust="spacingAndGlyphs">The behavior of ILC rule</text>
<rect x="307.5" y="11.5" width="29.2" height="20.8" fill="#fff" stroke="#a8a8a8" stroke-width="0.9"/>
<line x1="308.9" y1="15.4" x2="317.2" y2="15.4" stroke="#7070f5" stroke-width="0.9"/>
<line x1="308.9" y1="22.2" x2="317.5" y2="22.2" stroke="#aaa" stroke-width="0.9" stroke-dasharray="4 3.3 1.3"/>
<line x1="308.9" y1="28.6" x2="317.2" y2="28.6" stroke="#ff7070" stroke-width="0.9"/>
<text x="318.6" y="16.9" font-size="3.8" fill="#222" textLength="14.8" lengthAdjust="spacingAndGlyphs" class="b">ILC rule 1</text>
<text x="318.6" y="23.7" font-size="3.8" fill="#222" textLength="14.8" lengthAdjust="spacingAndGlyphs" class="b">ILC rule 2</text>
<text x="318.6" y="30.1" font-size="3.8" fill="#222" textLength="14.8" lengthAdjust="spacingAndGlyphs" class="b">ILC rule 3</text>
<text x="420.2" y="261.0" class="lbl" font-size="14" fill="#111" text-anchor="middle">(b)</text>
</svg>
</body></html>
